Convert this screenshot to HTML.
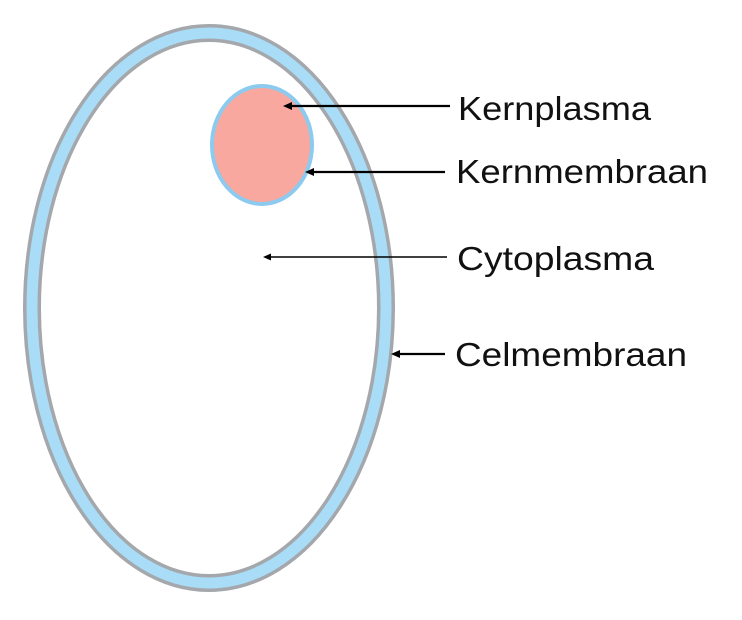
<!DOCTYPE html>
<html><head><style>html,body{margin:0;padding:0;background:#fff;}svg{display:block}</style></head>
<body>
<svg width="742" height="620" viewBox="0 0 742 620" xmlns="http://www.w3.org/2000/svg">
<ellipse cx="209" cy="308" rx="177" ry="275" fill="none" stroke="#a4a8ac" stroke-width="18"/>
<ellipse cx="209" cy="308" rx="177" ry="275" fill="none" stroke="#a9dcf7" stroke-width="11"/>
<ellipse cx="262" cy="145" rx="50" ry="59" fill="#f8a89e" stroke="#8ccbef" stroke-width="4"/>
<g stroke="#000" stroke-width="2.2">
<line x1="450" y1="106" x2="290" y2="106"/>
<line x1="445" y1="172" x2="311" y2="172"/>
<line x1="447" y1="257" x2="269" y2="257" stroke-width="1.6"/>
<line x1="445" y1="354" x2="398" y2="354"/>
</g>
<g fill="#000">
<polygon points="283,106 292,102 292,110"/>
<polygon points="305,172 314,168 314,176"/>
<polygon points="263,257 271,253.5 271,260.5"/>
<polygon points="391,354 400,350 400,358"/>
</g>
<g font-family="Liberation Sans, sans-serif" font-size="33" fill="#111">
<text x="458" y="120" textLength="193" lengthAdjust="spacingAndGlyphs">Kernplasma</text>
<text x="456" y="183" textLength="252" lengthAdjust="spacingAndGlyphs">Kernmembraan</text>
<text x="457" y="270" textLength="197" lengthAdjust="spacingAndGlyphs">Cytoplasma</text>
<text x="455" y="366" textLength="232" lengthAdjust="spacingAndGlyphs">Celmembraan</text>
</g>
</svg>
</body></html>
